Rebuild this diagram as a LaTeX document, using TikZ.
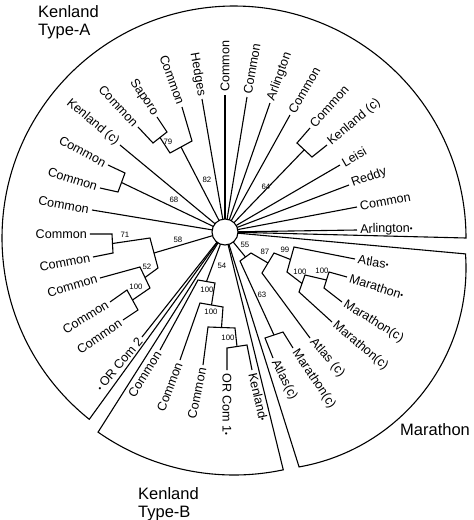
\documentclass[tikz,border=0pt]{standalone}
\usepackage{fontspec}
\setmainfont{Liberation Sans}
\usetikzlibrary{calc}
\newcommand{\leaffont}{\fontsize{12.6}{14}\selectfont}
\newcommand{\bootfont}{\fontsize{7.8}{9}\selectfont}
\newcommand{\grpfont}{\fontsize{16.5}{18}\selectfont}
\newcommand{\sdot}{{\fontsize{8}{8}\selectfont\raisebox{0.2ex}{•}}}
\begin{document}
\begin{tikzpicture}[x=1pt,y=1pt,
  branch/.style={line width=1.1pt,line join=miter},
  leafR/.style={anchor=west,inner xsep=3pt,inner ysep=1pt,font=\leaffont},
  leafL/.style={anchor=east,inner xsep=3pt,inner ysep=1pt,font=\leaffont},
  boot/.style={font=\bootfont,inner sep=0.5pt},
  grp/.style={font=\grpfont,align=left,inner sep=0pt},
]
  \useasboundingbox (-225,-288) rectangle (249,232);
  \coordinate (C) at (0,0);
  \coordinate (OA) at (9,-6);
  \coordinate (OM) at (39,-36);

  % Sectors
  \draw[branch] (C) -- ($(OA)+(231.4:232)$) arc[start angle=231.4,end angle=0,radius=232] -- cycle;
  \draw[branch] (C) -- ($(OA)+(235:237)$) arc[start angle=235,end angle=282,radius=237] -- cycle;
  \draw[branch] (C) -- ($(OM)+(280:202)$) arc[start angle=280,end angle=364,radius=202] -- cycle;

  \node[grp,anchor=north west] (typeA) at (-187,227) {Kenland\\Type-A};
  \node[grp,anchor=north west] (typeB) at (-87,-255) {Kenland\\Type-B};
  \node[grp,anchor=base west] (mara) at (175,-203) {Marathon};

  % Kenland Type-A, right half
  \coordinate (tArlA) at (132,2);
  \coordinate (tComA) at (132,25);
  \coordinate (tRed) at (124,47);
  \coordinate (tLei) at (115,67);
  \coordinate (m64) at (79,82);
  \coordinate (b64u) at (72,89);
  \coordinate (b64d) at (87,75);
  \coordinate (tCom64) at (85,104);
  \coordinate (tKen64) at (102,87);
  \coordinate (tComB) at (65,117);
  \coordinate (tArlB) at (45,129);
  \coordinate (tComC) at (22,135);
  \coordinate (tComD) at (0,137);

  \node[leafR,rotate=1] (lArlA) at (tArlA) {Arlington\sdot};
  \node[leafR,rotate=11] (lComA) at (tComA) {Common};
  \node[leafR,rotate=20] (lRed) at (tRed) {Reddy};
  \node[leafR,rotate=30] (lLei) at (tLei) {Leisi};
  \node[leafR,rotate=48] (lCom64) at (tCom64) {Common};
  \node[leafR,rotate=40] (lKen64) at (tKen64) {Kenland (c)};
  \node[leafR,rotate=60] (lComB) at (tComB) {Common};
  \node[leafR,rotate=70] (lArlB) at (tArlB) {Arlington};
  \node[leafR,rotate=80] (lComC) at (tComC) {Common};
  \node[leafR,rotate=90] (lComD) at (tComD) {Common};

  \draw[branch] (C) -- (lArlA.west);
  \draw[branch] (C) -- (lComA.west);
  \draw[branch] (C) -- (lRed.west);
  \draw[branch] (C) -- (lLei.west);
  \draw[branch] (C) -- (m64);
  \draw[branch] (lCom64.west) -- (b64u) -- (b64d) -- (lKen64.west);
  \draw[branch] (C) -- (lComB.west);
  \draw[branch] (C) -- (lArlB.west);
  \draw[branch] (C) -- (lComC.west);
  \draw[branch] (C) -- (lComD.west);

  % Kenland Type-A, left half
  \coordinate (tHed) at (-23,133);
  \coordinate (m82) at (-44,85);
  \coordinate (b82u) at (-33,91);
  \coordinate (b82d) at (-55,79);
  \coordinate (tCom82) at (-43,125);
  \coordinate (m79) at (-65,94.5);
  \coordinate (b79u) at (-58,100);
  \coordinate (b79d) at (-72,89);
  \coordinate (tSap) at (-68,115);
  \coordinate (tCom79) at (-87,105);
  \coordinate (tKenA) at (-105,87);
  \coordinate (m68) at (-103.5,49.5);
  \coordinate (b68u) at (-100,59);
  \coordinate (b68d) at (-107,40);
  \coordinate (tCom68u) at (-117,67);
  \coordinate (tCom68d) at (-125,44);
  \coordinate (tComE) at (-133,22);
  \coordinate (m58) at (-71,-21);
  \coordinate (b58u) at (-75,-6);
  \coordinate (b58d) at (-67,-36);
  \coordinate (m71) at (-112.5,-11.5);
  \coordinate (b71u) at (-113,-2);
  \coordinate (b71d) at (-112,-21);
  \coordinate (tCom71u) at (-135,-2);
  \coordinate (tCom71d) at (-132,-25);
  \coordinate (m52) at (-80,-45.5);
  \coordinate (b52u) at (-85,-35);
  \coordinate (b52d) at (-75,-56);
  \coordinate (tCom52) at (-125,-46);
  \coordinate (m100) at (-92.5,-68);
  \coordinate (b100u) at (-98,-58);
  \coordinate (b100d) at (-87,-78);
  \coordinate (tCom100u) at (-115,-70);
  \coordinate (tCom100d) at (-102,-88);
  \coordinate (tOR2) at (-83,-105);

  \node[leafL,rotate=-80] (lHed) at (tHed) {Hedges};
  \node[leafL,rotate=-70] (lCom82) at (tCom82) {Common};
  \node[leafL,rotate=-56] (lSap) at (tSap) {Saporo};
  \node[leafL,rotate=-47] (lCom79) at (tCom79) {Common};
  \node[leafL,rotate=-40] (lKenA) at (tKenA) {Kenland (c)};
  \node[leafL,rotate=-28] (lCom68u) at (tCom68u) {Common};
  \node[leafL,rotate=-18] (lCom68d) at (tCom68d) {Common};
  \node[leafL,rotate=-10] (lComE) at (tComE) {Common};
  \node[leafL,rotate=0] (lCom71u) at (tCom71u) {Common};
  \node[leafL,rotate=11] (lCom71d) at (tCom71d) {Common};
  \node[leafL,rotate=16] (lCom52) at (tCom52) {Common};
  \node[leafL,rotate=32] (lCom100u) at (tCom100u) {Common};
  \node[leafL,rotate=35] (lCom100d) at (tCom100d) {Common};
  \node[leafL,rotate=50] (lOR2) at (tOR2) {\sdot\,OR Com 2};

  \draw[branch] (C) -- (lHed.east);
  \draw[branch] (C) -- (m82);
  \draw[branch] (lCom82.east) -- (b82u) -- (b82d) -- (m79);
  \draw[branch] (lSap.east) -- (b79u) -- (b79d) -- (lCom79.east);
  \draw[branch] (C) -- (lKenA.east);
  \draw[branch] (C) -- (m68);
  \draw[branch] (lCom68u.east) -- (b68u) -- (b68d) -- (lCom68d.east);
  \draw[branch] (C) -- (lComE.east);
  \draw[branch] (C) -- (m58);
  \draw[branch] (m71) -- (b58u) -- (b58d) -- (m52);
  \draw[branch] (lCom71u.east) -- (b71u) -- (b71d) -- (lCom71d.east);
  \draw[branch] (lCom52.east) -- (b52u) -- (b52d) -- (m100);
  \draw[branch] (lCom100u.east) -- (b100u) -- (b100d) -- (lCom100d.east);
  \draw[branch] (C) -- (lOR2.east);

  % Kenland Type-B
  \coordinate (m1) at (-18.5,-49.5);
  \coordinate (b1u) at (-27,-48);
  \coordinate (b1d) at (-10,-51);
  \coordinate (m2) at (-13.5,-73);
  \coordinate (b2u) at (-25,-71);
  \coordinate (b2d) at (-2,-75);
  \coordinate (m3) at (-3.5,-95.5);
  \coordinate (b3u) at (-17,-95);
  \coordinate (b3d) at (10,-96);
  \coordinate (m4) at (12,-114.5);
  \coordinate (b4u) at (2,-116);
  \coordinate (b4d) at (22,-113);
  \coordinate (tComBa) at (-65,-118);
  \coordinate (tComBb) at (-45,-128);
  \coordinate (tComBc) at (-22,-133);
  \coordinate (tOR1) at (2,-138);
  \coordinate (tKenB) at (27,-138);

  \node[leafL,rotate=58] (lComBa) at (tComBa) {Common};
  \node[leafL,rotate=69] (lComBb) at (tComBb) {Common};
  \node[leafL,rotate=78] (lComBc) at (tComBc) {Common};
  \node[leafR,rotate=-90] (lOR1) at (tOR1) {OR Com 1\sdot};
  \node[leafR,rotate=-77] (lKenB) at (tKenB) {Kenland\sdot};

  \draw[branch] (C) -- (m1);
  \draw[branch] (lComBa.east) -- (b1u) -- (b1d) -- (m2);
  \draw[branch] (lComBb.east) -- (b2u) -- (b2d) -- (m3);
  \draw[branch] (lComBc.east) -- (b3u) -- (b3d) -- (m4);
  \draw[branch] (lOR1.west) -- (b4u) -- (b4d) -- (lKenB.west);

  % Marathon
  \coordinate (m55) at (20.5,-25);
  \coordinate (b55u) at (26,-21);
  \coordinate (b55d) at (15,-29);
  \coordinate (m87) at (43,-31);
  \coordinate (b87u) at (49,-21);
  \coordinate (b87d) at (37,-41);
  \coordinate (m99) at (65.5,-27.5);
  \coordinate (b99u) at (69,-15);
  \coordinate (b99d) at (62,-40);
  \coordinate (mH1) at (77,-51.5);
  \coordinate (bH1u) at (80,-43);
  \coordinate (bH1d) at (74,-60);
  \coordinate (mH2) at (101.5,-48);
  \coordinate (bH2u) at (104,-40);
  \coordinate (bH2d) at (99,-56);
  \coordinate (m63) at (49,-103);
  \coordinate (b63u) at (58,-100);
  \coordinate (b63d) at (40,-106);
  \coordinate (tAtl) at (130,-27);
  \coordinate (tMar) at (122,-45);
  \coordinate (tMarC1) at (117,-70);
  \coordinate (tMarC2) at (107,-90);
  \coordinate (tAtlC) at (85,-106);
  \coordinate (tMar63) at (68,-116);
  \coordinate (tAtl63) at (48,-126);

  \node[leafR,rotate=-9] (lAtl) at (tAtl) {Atlas\sdot};
  \node[leafR,rotate=-18] (lMar) at (tMar) {Marathon\sdot};
  \node[leafR,rotate=-32] (lMarC1) at (tMarC1) {Marathon(c)};
  \node[leafR,rotate=-40] (lMarC2) at (tMarC2) {Marathon(c)};
  \node[leafR,rotate=-49] (lAtlC) at (tAtlC) {Atlas (c)};
  \node[leafR,rotate=-56] (lMar63) at (tMar63) {Marathon(c)};
  \node[leafR,rotate=-63] (lAtl63) at (tAtl63) {Atlas(c)};

  \draw[branch] (C) -- (m55);
  \draw[branch] (m87) -- (b55u) -- (b55d) -- (m63);
  \draw[branch] (m99) -- (b87u) -- (b87d) -- (lAtlC.west);
  \draw[branch] (lAtl.west) -- (b99u) -- (b99d) -- (mH1);
  \draw[branch] (mH2) -- (bH1u) -- (bH1d) -- (lMarC2.west);
  \draw[branch] (lMar.west) -- (bH2u) -- (bH2d) -- (lMarC1.west);
  \draw[branch] (lMar63.west) -- (b63u) -- (b63d) -- (lAtl63.west);

  % Centre
  \draw[branch,fill=white] (C) circle[radius=13];

  % Bootstrap values
  \node[boot] (v64) at (41,45) {64};
  \node[boot] (v82) at (-18,52) {82};
  \node[boot] (v79) at (-57,90) {79};
  \node[boot] (v68) at (-51,32) {68};
  \node[boot] (v71) at (-100,-3) {71};
  \node[boot] (v58) at (-47,-8) {58};
  \node[boot] (v52) at (-78,-35) {52};
  \node[boot] (v100a) at (-89,-55) {100};
  \node[boot] (v54) at (-3,-34) {54};
  \node[boot] (v100b) at (-18,-58) {100};
  \node[boot] (v100c) at (-14,-80) {100};
  \node[boot] (v100d) at (3,-106) {100};
  \node[boot] (v55) at (20,-13) {55};
  \node[boot] (v87) at (40,-20) {87};
  \node[boot] (v99) at (60,-18) {99};
  \node[boot] (v100e) at (75,-40) {100};
  \node[boot] (v100f) at (97,-39) {100};
  \node[boot] (v63) at (37,-63) {63};
\end{tikzpicture}
\end{document}
